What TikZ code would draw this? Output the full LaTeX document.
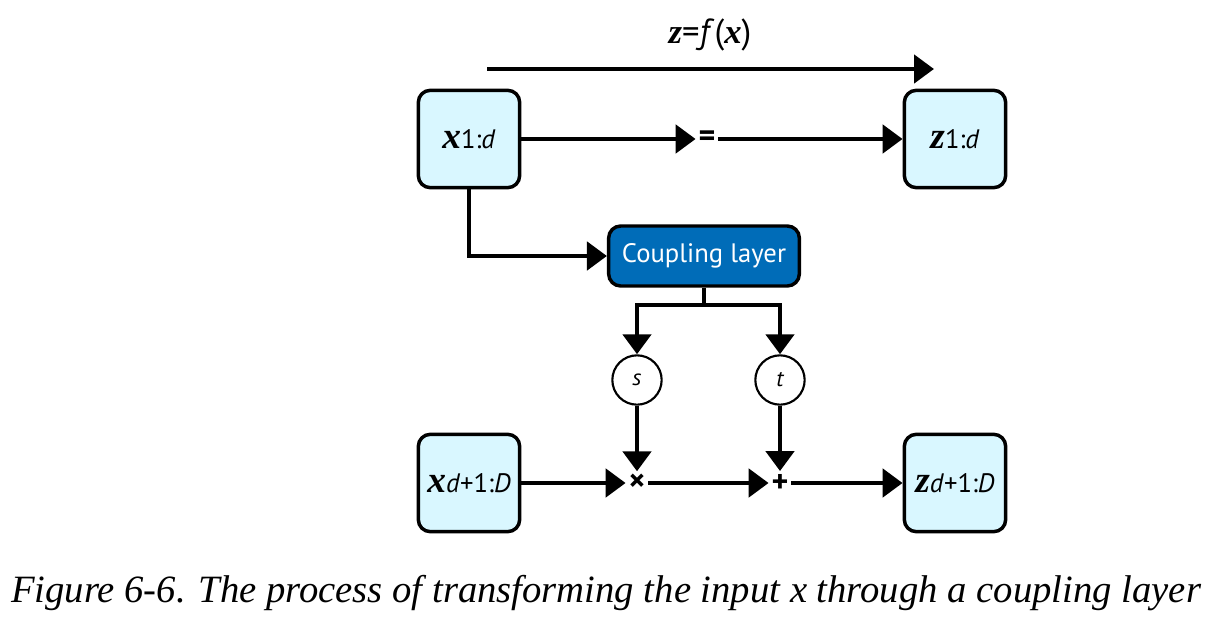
\documentclass[tikz,border=0pt]{standalone}
\usepackage{fontspec}
\setmainfont{Liberation Serif}
\setsansfont{PT Sans}
\usetikzlibrary{arrows.meta}
\usetikzlibrary{positioning}

\tikzset{
  var/.style={draw=black,line width=2.6pt,rounded corners=9pt,fill=blue!20!cyan!15,
    minimum width=76pt,minimum height=73pt,inner sep=0pt},
  layer/.style={draw=black,line width=2.6pt,rounded corners=9pt,fill={rgb,255:red,0;green,108;blue,184},
    text=white,minimum width=143pt,minimum height=45pt,font=\sffamily\fontsize{20}{22}\selectfont},
  fn/.style={draw=black,circle,line width=1.6pt,minimum size=37pt,inner sep=0pt,
    font=\sffamily\itshape\fontsize{17}{18}\selectfont},
  op/.style={inner sep=2pt,font=\sffamily\bfseries\fontsize{24}{24}\selectfont},
  flow/.style={line width=3.6pt,-{Triangle[length=15pt,width=21pt]}},
  pipe/.style={line width=3.6pt}
}
\newcommand{\vlab}[2]{{\fontsize{28}{30}\selectfont\bfseries\itshape #1}{\sffamily\fontsize{20}{22}\selectfont #2}}

\begin{document}
\begin{tikzpicture}[x=0.75pt,y=-0.75pt]
  \useasboundingbox (0,0) rectangle (1232,629);
  % boxes
  \node[var] (x1) at (469,139) {\vlab{x}{1:\textit{d}}};
  \node[var] (z1) at (955,139) {\vlab{z}{1:\textit{d}}};
  \node[var] (x2) at (469,483) {\vlab{x}{\textit{d}+1:\textit{D}}};
  \node[var] (z2) at (955,483) {\vlab{z}{\textit{d}+1:\textit{D}}};
  \node[layer] (cl) at (704,256) {Coupling layer};
  \node[fn] (s) at (637,380) {s};
  \node[fn] (t) at (780,380) {t};
  \node[op] (eq) at (707,139) {=};
  \node[op] (mul) at (637,483) {\char"00D7};
  \node[op] (add) at (780,483) {+};
  % top map
  \coordinate (fa) at (487,69);
  \coordinate (fb) at (934,69);
  \draw[flow] (fa) -- (fb);
  \node (fl) at (710,35) {\fontsize{26}{28}\selectfont\textbf{\textit{z}}\sffamily=\textit{f}(\rmfamily\textbf{\textit{x}}\sffamily)};
  % connectors
  \draw[flow] (x1) -- (eq);
  \draw[flow] (eq) -- (z1);
  \draw[flow] (x1.south) |- (cl.west);
  \coordinate (sp) at (704,305);
  \draw[pipe] (cl.south) -- (sp);
  \draw[flow] (sp) -| (s.north);
  \draw[flow] (sp) -| (t.north);
  \draw[flow] (s) -- (mul);
  \draw[flow] (t) -- (add);
  \draw[flow] (x2) -- (mul);
  \draw[flow] (mul) -- (add);
  \draw[flow] (add) -- (z2);
  % caption
  \node (cap) at (606,593) {\fontsize{29}{32}\selectfont\itshape Figure 6-6. The process of transforming the input x through a coupling layer};
\end{tikzpicture}
\end{document}
